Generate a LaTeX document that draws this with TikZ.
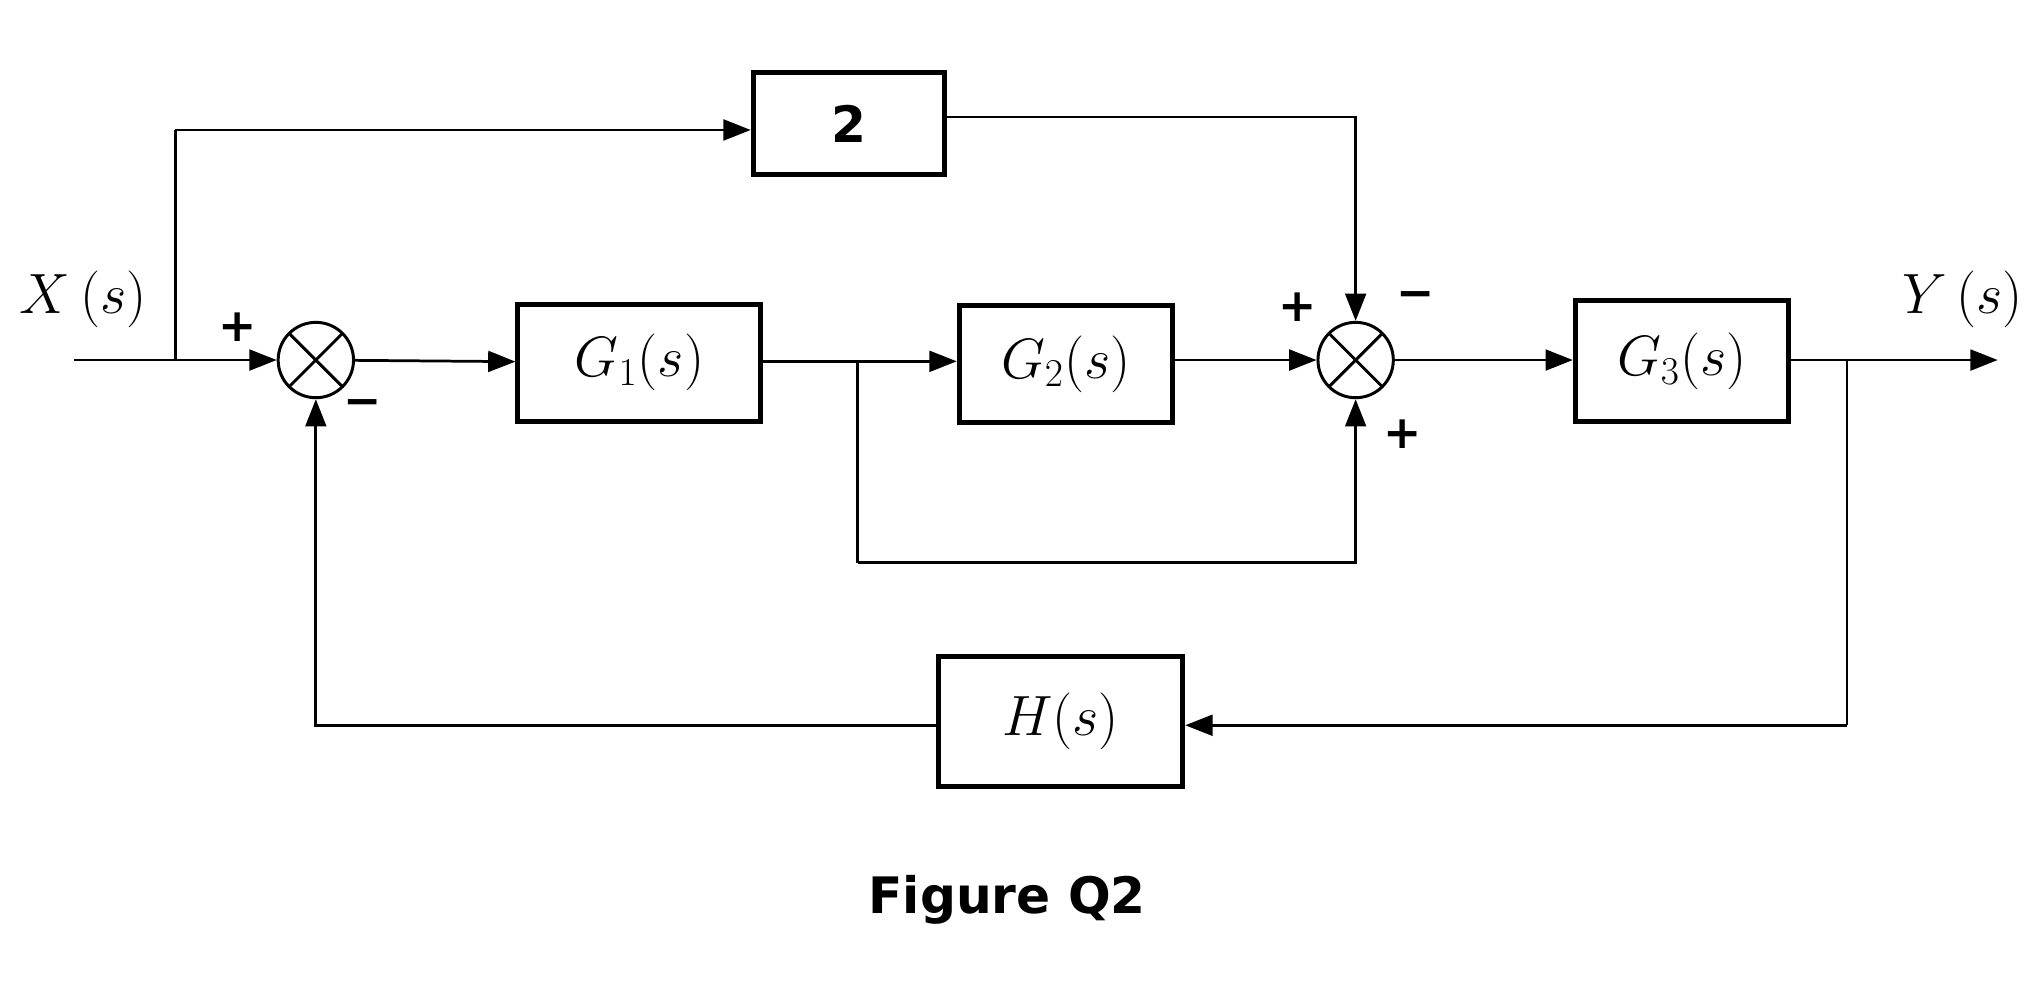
\documentclass[tikz,border=0pt]{standalone}
\usepackage{fontspec}
\newfontfamily\capfont{DejaVu Sans}
\usetikzlibrary{arrows.meta}
\begin{document}
\begin{tikzpicture}[x=0.02cm,y=-0.02cm,
  blk/.style={draw,line width=2.2pt,minimum width=#1,inner sep=0pt},
  sum/.style={draw,circle,line width=1.3pt,minimum size=1.16cm,inner sep=0pt,path picture={\draw[line width=1.3pt]([xshift=-0.41cm,yshift=-0.41cm]path picture bounding box.center)--([xshift=0.41cm,yshift=0.41cm]path picture bounding box.center);\draw[line width=1.3pt]([xshift=-0.41cm,yshift=0.41cm]path picture bounding box.center)--([xshift=0.41cm,yshift=-0.41cm]path picture bounding box.center);}},
  ln/.style={line width=1.2pt},
  ar/.style={ln,-{Triangle[length=0.42cm,width=0.32cm]}},
  sg/.style={font=\fontsize{20}{22}\selectfont\bfseries\capfont},
  mt/.style={font=\fontsize{24}{28}\selectfont}]
\useasboundingbox (0,0) rectangle (1568,754);
\node[blk=2.94cm,minimum height=1.56cm,font=\fontsize{22}{24}\selectfont\bfseries\capfont] (k) at (653,95) {2};
\node[blk=3.74cm,minimum height=1.8cm,mt] (g1) at (492,279) {$G_1(s)$};
\node[blk=3.28cm,minimum height=1.8cm,mt] (g2) at (820,280) {$G_2(s)$};
\node[blk=3.28cm,minimum height=1.86cm,mt] (g3) at (1294,278) {$G_3(s)$};
\node[blk=3.76cm,minimum height=2cm,mt] (h) at (816,555) {$H(s)$};
\node[sum] (s1) at (243,277) {};
\node[sum] (s2) at (1043,277) {};
\coordinate (in) at (57,277);
\coordinate (t1) at (135,277);
\coordinate (t2) at (135,100);
\coordinate (b1) at (660,278);
\coordinate (b2) at (660,433);
\coordinate (o1) at (1421,278);
\coordinate (o2) at (1421,558);
\coordinate (out) at (1537,277);
\node[mt,font=\fontsize{30}{34}\selectfont] (X) at (64,230) {$X\,(s)$};
\node[mt,font=\fontsize{30}{34}\selectfont] (Y) at (1510,230) {$Y\,(s)$};
\draw[ar] (in) -- (s1);
\draw[ln] (t1) -- (t2);
\draw[ar] (t2) -- (k.west|-t2);
\draw[ar] (k.east|-0,90) -| (s2.north);
\draw[ar] (s1) -- (g1);
\draw[ln] (g1.east|-b1) -- (b1);
\draw[ar] (b1) -- (g2.west|-b1);
\draw[ar] (g2.east|-s2) -- (s2);
\draw[ln] (b1) -- (b2);
\draw[ar] (b2) -| (s2.south);
\draw[ar] (s2) -- (g3.west|-s2);
\draw[ar] (g3.east|-out) -- (out);
\draw[ln] (o1) -- (o2);
\draw[ar] (o2) -- (h.east|-o2);
\draw[ar] (h.west|-o2) -| (s1.south);
\node[sg] (p1) at (183,252) {+};
\node[sg] (m1) at (279,314) {\textminus};
\node[sg] (p2) at (998,236) {+};
\node[sg] (m2) at (1089,231) {\textminus};
\node[sg] (p3) at (1079,334) {+};
\node[font=\fontsize{22}{26}\selectfont\bfseries\capfont] (cap) at (775,692) {Figure Q2};
\end{tikzpicture}
\end{document}
